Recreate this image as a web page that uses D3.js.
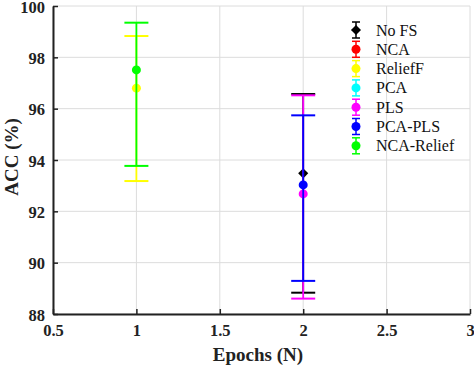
<!DOCTYPE html>
<html>
<head>
<meta charset="utf-8">
<script src="https://cdn.jsdelivr.net/npm/d3@7"></script>
<style>
  body { margin: 0; background: #fff; }
  svg text { font-family: "Liberation Serif", "Times New Roman", serif; }
</style>
</head>
<body>
<div id="chart"></div>
<script>
// series names, colours and markers
const methods = ["No FS", "NCA", "ReliefF", "PCA", "PLS", "PCA-PLS", "NCA-Relief"];
const colors = ["#000000", "#ff0000", "#ffff00", "#00ffff", "#ff00ff", "#0000ff", "#00ff00"];
const markers = ["diamond", "circle", "circle", "circle", "circle", "circle", "circle"];

// x positions (epochs)
const epochs = [1, 2];

// mean / lower / upper values per method, one entry per epoch (null = not shown)
const noFsMean = [null, 93.48], noFsLow = [null, 88.83], noFsHigh = [null, 96.57];
const ncaMean = [null, null], ncaLow = [null, null], ncaHigh = [null, null];
const reliefMean = [96.8, null], reliefLow = [93.18, null], reliefHigh = [98.83, null];
const pcaMean = [null, null], pcaLow = [null, null], pcaHigh = [null, null];
const plsMean = [null, 92.68], plsLow = [null, 88.6], plsHigh = [null, 96.52];
const pcaPlsMean = [null, 93.03], pcaPlsLow = [null, 89.29], pcaPlsHigh = [null, 95.74];
const ncaReliefMean = [97.51, null], ncaReliefLow = [93.77, null], ncaReliefHigh = [99.35, null];

// tick values
const xTicks = [0.5, 1, 1.5, 2, 2.5, 3];
const yTicks = [88, 90, 92, 94, 96, 98, 100];

const series = [
  [noFsMean, noFsLow, noFsHigh],
  [ncaMean, ncaLow, ncaHigh],
  [reliefMean, reliefLow, reliefHigh],
  [pcaMean, pcaLow, pcaHigh],
  [plsMean, plsLow, plsHigh],
  [pcaPlsMean, pcaPlsLow, pcaPlsHigh],
  [ncaReliefMean, ncaReliefLow, ncaReliefHigh]
].map((s, i) => ({
  name: methods[i], color: colors[i], marker: markers[i],
  points: epochs.map((e, j) => ({ x: e, mean: s[0][j], lo: s[1][j], hi: s[2][j] }))
    .filter(p => p.mean != null)
}));

const W = 474, H = 367;
const margin = { top: 6, right: 4, bottom: 53, left: 53 };
const width = W - margin.left - margin.right;
const height = H - margin.top - margin.bottom;
const serif = '"Liberation Serif", "Times New Roman", serif';

const svg = d3.select("#chart").append("svg")
  .attr("width", W).attr("height", H);
const g = svg.append("g")
  .attr("transform", "translate(" + margin.left + "," + margin.top + ")");

const x = d3.scaleLinear().domain([0.5, 3]).range([0, width]);
const y = d3.scaleLinear().domain([88, 100]).range([height, 0]);

// grid
g.append("g").selectAll("line").data(xTicks).join("line")
  .attr("x1", d => x(d)).attr("x2", d => x(d))
  .attr("y1", 0).attr("y2", height)
  .attr("stroke", "#dcdcdc").attr("stroke-width", 1);
g.append("g").selectAll("line").data(yTicks).join("line")
  .attr("x1", 0).attr("x2", width)
  .attr("y1", d => y(d)).attr("y2", d => y(d))
  .attr("stroke", "#dcdcdc").attr("stroke-width", 1);

// axes (inward ticks)
const xAxis = g.append("g")
  .attr("transform", "translate(0," + height + ")")
  .call(d3.axisBottom(x).tickValues(xTicks).tickSizeInner(-5).tickSizeOuter(0).tickPadding(10)
    .tickFormat(d3.format("")));
const yAxis = g.append("g")
  .call(d3.axisLeft(y).tickValues(yTicks).tickSizeInner(-5).tickSizeOuter(0).tickPadding(8));
[xAxis, yAxis].forEach(a => {
  a.attr("font-family", serif).attr("font-size", 16.5).attr("font-weight", "bold");
  a.select(".domain").attr("stroke", "#222").attr("stroke-width", 2);
  a.selectAll(".tick line").attr("stroke", "#222").attr("stroke-width", 1.5);
  a.selectAll("text").attr("fill", "#222");
});
yAxis.selectAll("text").attr("dy", "0.38em");

// error bars
const cap = 12;
function drawMarker(sel, type, cx, cy, color, r) {
  if (type === "diamond") {
    sel.append("path")
      .attr("d", d3.symbol().type(d3.symbolDiamond2 || d3.symbolDiamond).size(r * r * 3.2)())
      .attr("transform", "translate(" + cx + "," + cy + ")")
      .attr("fill", color);
  } else {
    sel.append("circle").attr("cx", cx).attr("cy", cy).attr("r", r).attr("fill", color);
  }
}
series.forEach(s => {
  const sg = g.append("g");
  s.points.forEach(p => {
    const px = x(p.x);
    sg.append("line").attr("x1", px).attr("x2", px)
      .attr("y1", y(p.lo)).attr("y2", y(p.hi))
      .attr("stroke", s.color).attr("stroke-width", 1.8);
    [p.lo, p.hi].forEach(v => {
      sg.append("line").attr("x1", px - cap).attr("x2", px + cap)
        .attr("y1", y(v)).attr("y2", y(v))
        .attr("stroke", s.color).attr("stroke-width", 2);
    });
    drawMarker(sg, s.marker, px, y(p.mean), s.color, 4.5);
  });
});

// legend
const legend = g.append("g").attr("transform", "translate(" + (356 - margin.left) + "," + (30 - margin.top) + ")");
series.forEach((s, i) => {
  const lg = legend.append("g").attr("transform", "translate(0," + i * 19.3 + ")");
  lg.append("line").attr("x1", 0).attr("x2", 0).attr("y1", -8).attr("y2", 8)
    .attr("stroke", s.color).attr("stroke-width", 1.5);
  [-8, 8].forEach(v => lg.append("line").attr("x1", -4).attr("x2", 4)
    .attr("y1", v).attr("y2", v).attr("stroke", s.color).attr("stroke-width", 1.5));
  drawMarker(lg, s.marker, 0, 0, s.color, 4.5);
  lg.append("text").attr("x", 20).attr("y", 5.5)
    .attr("font-family", serif).attr("font-size", 16).attr("fill", "#111").text(s.name);
});

// axis labels
svg.append("text")
  .attr("x", 258).attr("y", 361)
  .attr("text-anchor", "middle")
  .attr("font-family", serif).attr("font-size", 19).attr("font-weight", "bold").attr("fill", "#222")
  .text("Epochs (N)");
svg.append("text")
  .attr("transform", "translate(18,157) rotate(-90)")
  .attr("text-anchor", "middle")
  .attr("font-family", serif).attr("font-size", 19).attr("font-weight", "bold").attr("fill", "#222")
  .text("ACC (%)");
</script>
</body>
</html>
